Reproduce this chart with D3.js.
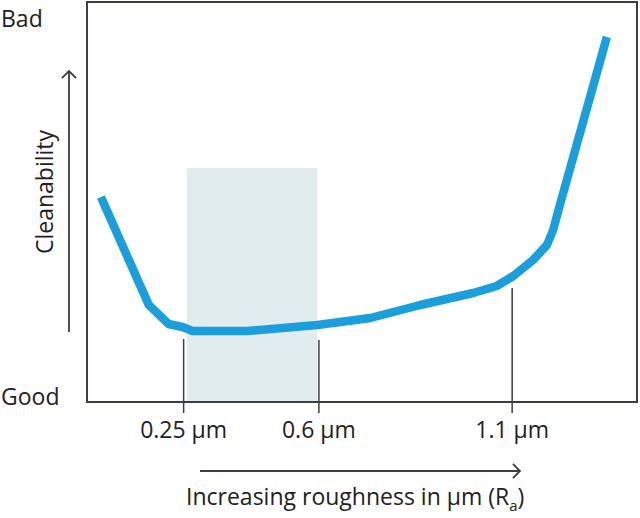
<!DOCTYPE html>
<html>
<head>
<meta charset="utf-8">
<script src="https://cdn.jsdelivr.net/npm/d3@7"></script>
<style>
  body { margin: 0; background: #fff; }
  text { font-family: "Open Sans", sans-serif; fill: #222; }
</style>
</head>
<body>
<svg id="chart" width="640" height="518"></svg>
<script>
// roughness (µm Ra) vs cleanability (0 = good, 100 = bad)
const roughness = [0.036, 0.16, 0.211, 0.247, 0.273, 0.415, 0.596, 0.733, 0.862, 0.999, 1.06, 1.103, 1.154, 1.19, 1.206, 1.227, 1.345];
const cleanability = [51.25, 24.25, 19.5, 18.75, 17.75, 17.75, 19.25, 21, 24.25, 27.25, 29.0, 31.5, 35.5, 39.25, 43, 50.5, 91.25];

const markerValues = [0.25, 0.6, 1.1];
const markerLabels = ["0.25 µm", "0.6 µm", "1.1 µm"];
const markerTops = [15.75, 15.5, 28.5];

const bandRange = [0.258, 0.596];
const bandTop = 58.5;

const margin = { top: 2, right: 3, bottom: 116, left: 87 };
const width = 640, height = 518;

const svg = d3.select("#chart");

const x = d3.scaleLinear().domain([0, 1.423]).range([margin.left, width - margin.right]);
const y = d3.scaleLinear().domain([0, 100]).range([height - margin.bottom, margin.top]);

const ink = "#3b3e46";

// recommended band
svg.append("rect")
  .attr("x", x(bandRange[0]))
  .attr("y", y(bandTop))
  .attr("width", x(bandRange[1]) - x(bandRange[0]))
  .attr("height", y(0) - y(bandTop))
  .attr("fill", "#e1ecef");

// frame
svg.append("rect")
  .attr("x", x(0))
  .attr("y", y(100))
  .attr("width", x(1.423) - x(0))
  .attr("height", y(0) - y(100))
  .attr("fill", "none")
  .attr("stroke", ink)
  .attr("stroke-width", 2);

// marker lines + labels
markerValues.forEach((v, i) => {
  svg.append("line")
    .attr("x1", x(v)).attr("x2", x(v))
    .attr("y1", y(markerTops[i])).attr("y2", y(0) + 11)
    .attr("stroke", ink)
    .attr("stroke-width", 1.5);
  svg.append("text")
    .attr("x", x(v))
    .attr("y", 438)
    .attr("text-anchor", "middle")
    .attr("font-size", 23)
    .text(markerLabels[i]);
});

// curve
const line = d3.line()
  .x(d => x(d[0]))
  .y(d => y(d[1]));

svg.append("path")
  .datum(d3.zip(roughness, cleanability))
  .attr("d", line)
  .attr("fill", "none")
  .attr("stroke", "#1a9fdc")
  .attr("stroke-width", 8.5)
  .attr("stroke-linejoin", "round");

// axis arrows
function arrow(x1, y1, x2, y2) {
  svg.append("line")
    .attr("x1", x1).attr("y1", y1).attr("x2", x2).attr("y2", y2)
    .attr("stroke", ink).attr("stroke-width", 1.8);
  const a = Math.atan2(y2 - y1, x2 - x1), s = 10;
  const p = [
    [x2 - s * Math.cos(a - Math.PI / 4), y2 - s * Math.sin(a - Math.PI / 4)],
    [x2, y2],
    [x2 - s * Math.cos(a + Math.PI / 4), y2 - s * Math.sin(a + Math.PI / 4)]
  ];
  svg.append("path")
    .attr("d", d3.line()(p))
    .attr("fill", "none")
    .attr("stroke", ink)
    .attr("stroke-width", 1.8);
}
arrow(69, 332, 69, 71);
arrow(200, 471, 520, 471);

// labels
svg.append("text").attr("x", 1).attr("y", 27).attr("font-size", 23).text("Bad");
svg.append("text").attr("x", 1).attr("y", 405).attr("font-size", 23).text("Good");

svg.append("text")
  .attr("transform", "translate(53,192) rotate(-90)")
  .attr("text-anchor", "middle")
  .attr("font-size", 23)
  .text("Cleanability");

const xl = svg.append("text")
  .attr("x", 186)
  .attr("y", 505)
  .attr("font-size", 23);
xl.append("tspan").text("Increasing roughness in µm (R");
xl.append("tspan").attr("font-size", 15).attr("dy", 6).text("a");
xl.append("tspan").attr("dy", -6).text(")");
</script>
</body>
</html>
